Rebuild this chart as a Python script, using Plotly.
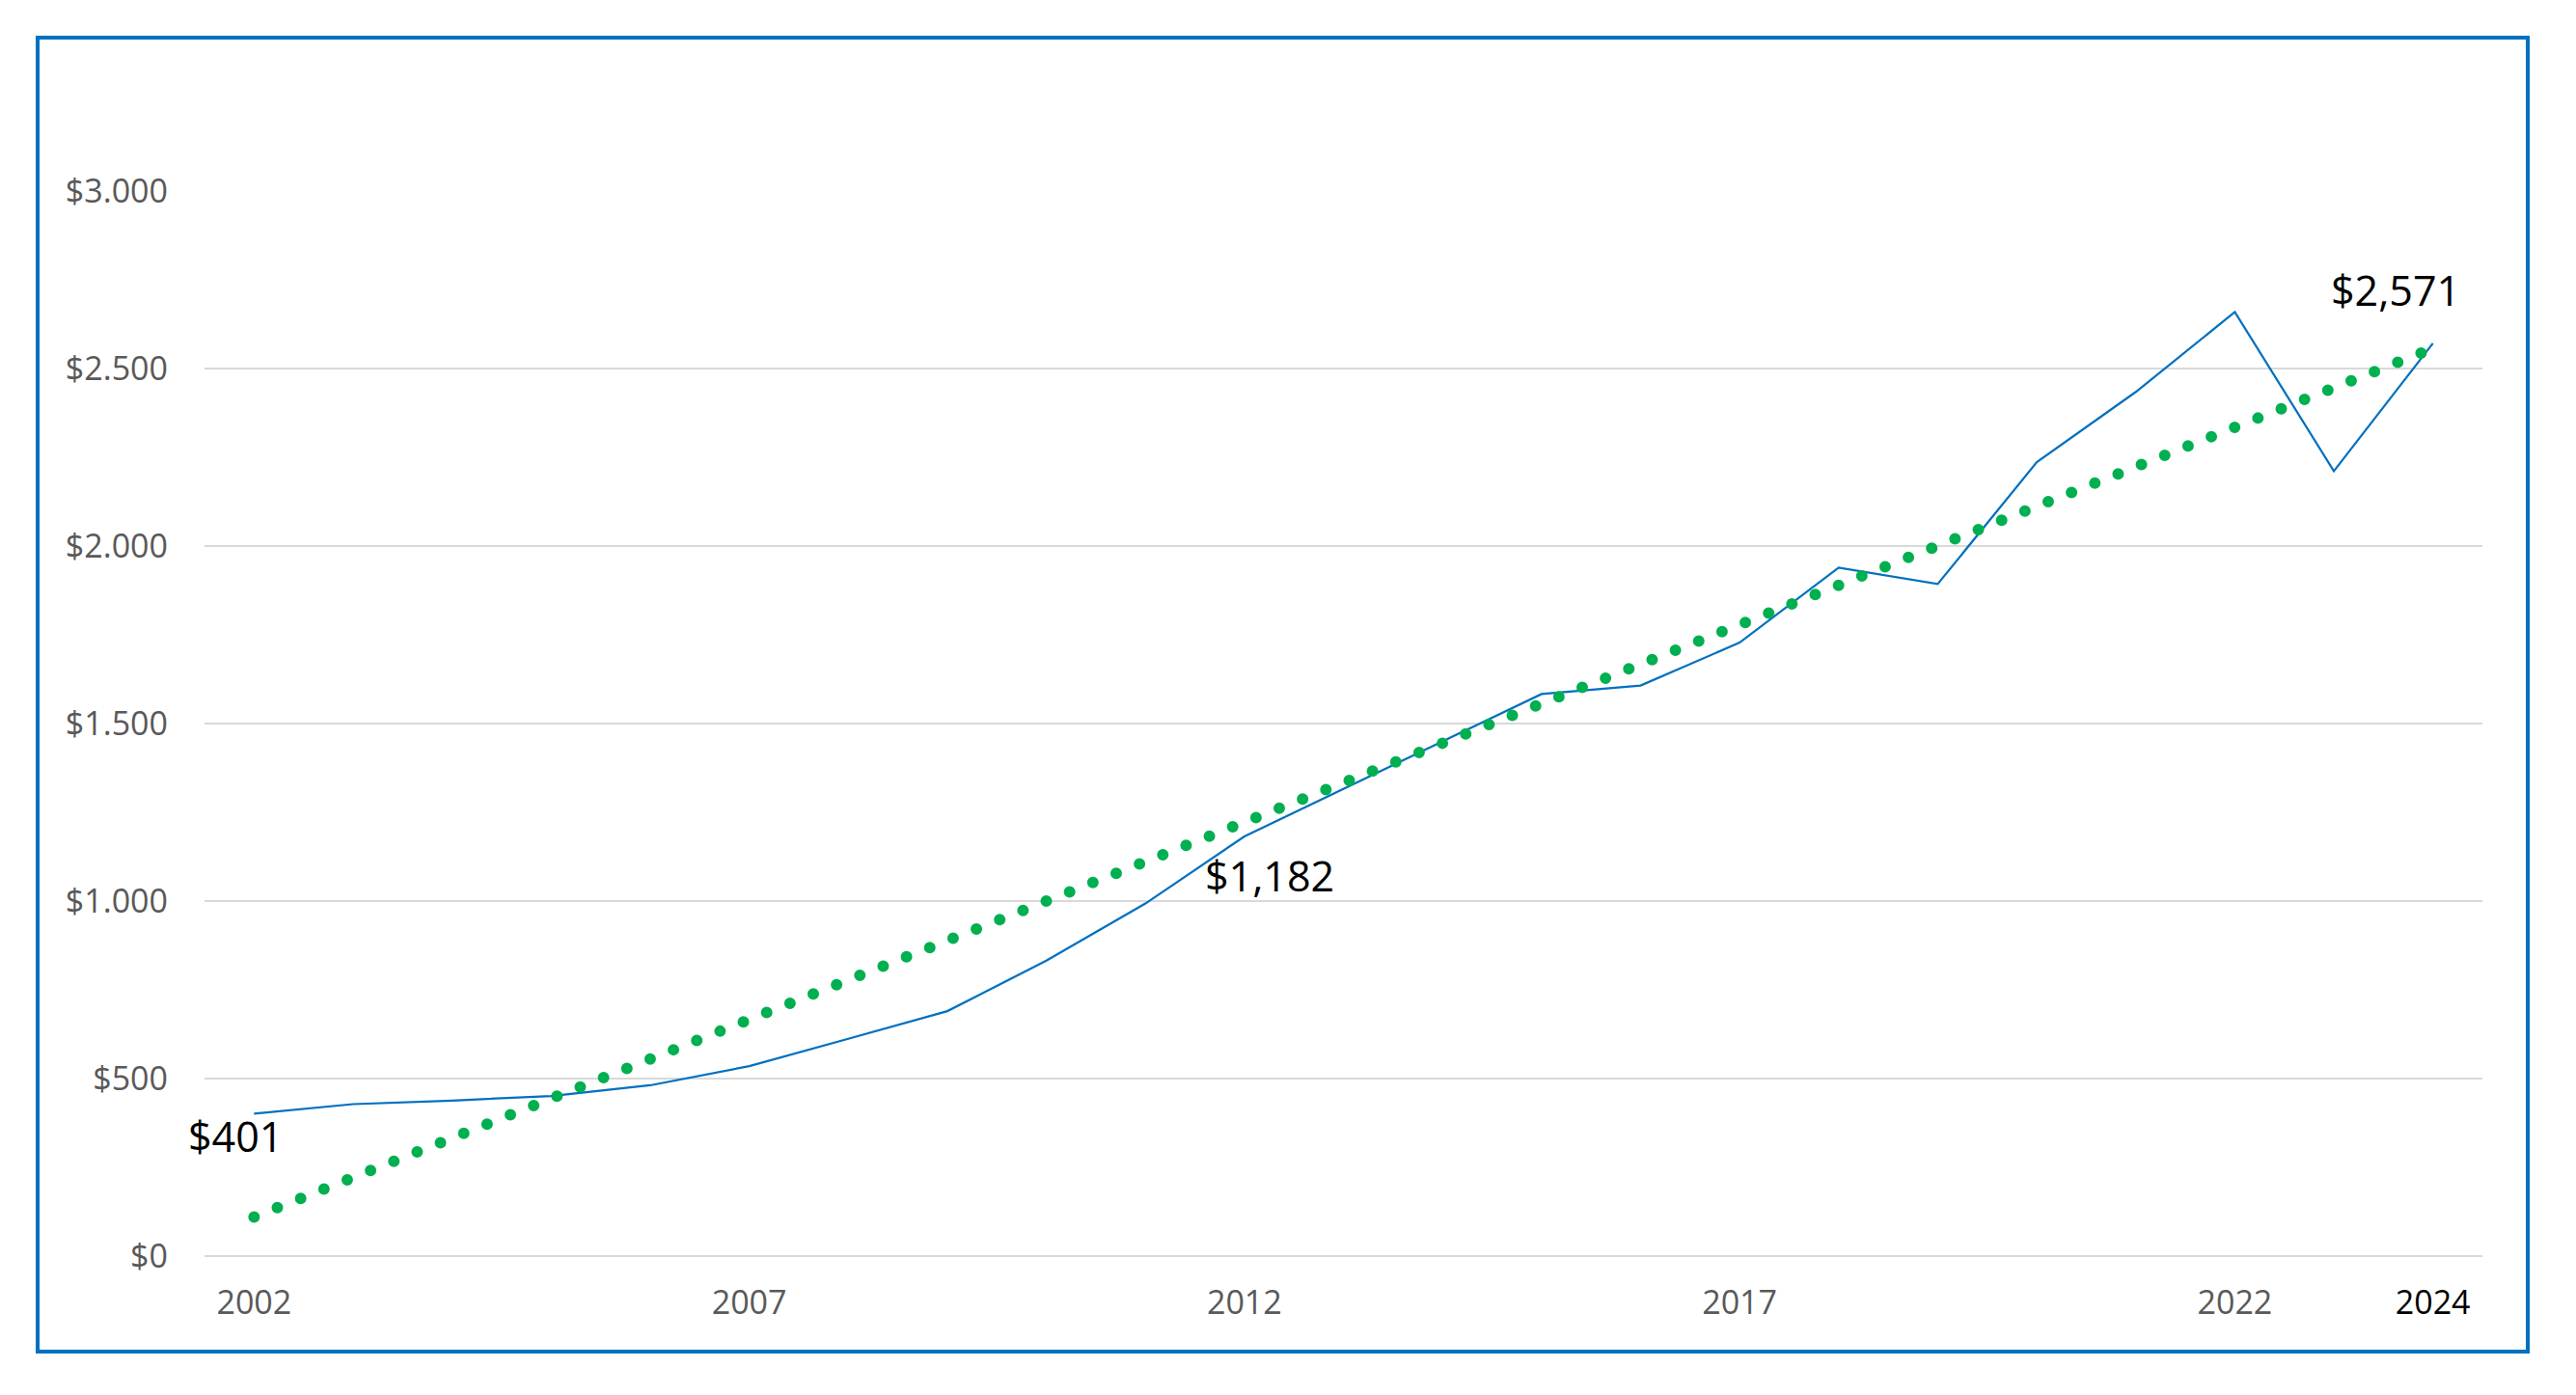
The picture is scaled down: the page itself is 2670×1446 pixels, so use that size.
import numpy as np
import plotly.graph_objects as go

# ---- data ----
years = [2002, 2003, 2004, 2005, 2006, 2007, 2008, 2009, 2010, 2011, 2012, 2013,
         2014, 2015, 2016, 2017, 2018, 2019, 2020, 2021, 2022, 2023, 2024]
values = [401, 428, 438, 451, 481, 535, 612, 690, 832, 993, 1182, 1317,
          1450, 1583, 1607, 1728, 1939, 1893, 2236, 2434, 2659, 2211, 2571]

y_tick_vals = [0, 500, 1000, 1500, 2000, 2500, 3000]
y_tick_text = ["$0", "$500", "$1.000", "$1.500", "$2.000", "$2.500", "$3.000"]
x_tick_vals = [2002, 2007, 2012, 2017, 2022, 2024]
x_tick_text = ["2002", "2007", "2012", "2017", "2022",
               "<span style='color:#000000'>2024</span>"]

label_years = [2002, 2012, 2024]
label_text = ["$401", "$1,182", "$2,571"]

# linear trendline of the series (as in the original chart)
slope, intercept = np.polyfit(years, values, 1)
trend_x = [years[0], years[-1]]
trend_y = [slope * x + intercept for x in trend_x]

# ---- layout geometry (pixels) ----
W, H = 2670, 1446
PL, PR, PT, PB = 212, 2573, 198, 1302   # plot area
BL, BR, BT, BB = 39, 2620, 39, 1401     # outer border

def px_to_paper_x(px):
    return (px - PL) / (PR - PL)

def px_to_paper_y(py):
    return (PB - py) / (PB - PT)

fig = go.Figure()
fig.add_trace(go.Scatter(
    x=years, y=values, mode="lines",
    line=dict(color="#0070C0", width=2.25),
    hoverinfo="skip", showlegend=False,
))
fig.add_trace(go.Scatter(
    x=trend_x, y=trend_y, mode="lines",
    line=dict(color="#00B050", width=12, dash="0px,26px"),
    hoverinfo="skip", showlegend=False,
))

label_shift = {2002: (-19, -23), 2012: (26, -40), 2024: (-39, 55)}
for yr, txt in zip(label_years, label_text):
    v = values[years.index(yr)]
    dx, dy = label_shift[yr]
    fig.add_annotation(
        x=yr, y=v, xref="x", yref="y", text=txt, showarrow=False,
        xanchor="center", yanchor="middle", xshift=dx, yshift=dy,
        font=dict(family="Open Sans", size=43, color="#000000"),
    )

fig.add_shape(
    type="rect", xref="paper", yref="paper",
    x0=px_to_paper_x(BL), x1=px_to_paper_x(BR),
    y0=px_to_paper_y(BB), y1=px_to_paper_y(BT),
    line=dict(color="#0070C0", width=4), fillcolor="rgba(0,0,0,0)",
    layer="above",
)

fig.update_layout(
    width=W, height=H,
    margin=dict(l=PL, r=W - PR, t=PT, b=H - PB, pad=0),
    paper_bgcolor="#FFFFFF", plot_bgcolor="#FFFFFF",
    showlegend=False,
    font=dict(family="Open Sans", size=33, color="#595959"),
    xaxis=dict(
        range=[2001.5, 2024.5], tickmode="array",
        tickvals=x_tick_vals, ticktext=x_tick_text,
        showgrid=False, zeroline=False, showline=False, ticks="",
        ticklabelstandoff=25,
        tickfont=dict(family="Open Sans", size=34, color="#595959"),
    ),
    yaxis=dict(
        range=[0, 3000], tickmode="array",
        tickvals=y_tick_vals, ticktext=y_tick_text,
        showgrid=True, gridcolor="#D9D9D9", gridwidth=2,
        zeroline=True, zerolinecolor="#D9D9D9", zerolinewidth=2,
        showline=False, ticks="", ticklabelstandoff=37,
        tickfont=dict(family="Open Sans", size=34, color="#595959"),
    ),
)

post_script = """
var gd = document.getElementById('{plot_id}');
function fixCaps(){
  var traces = gd.querySelectorAll('.scatterlayer .trace');
  if (traces.length > 1) {
    traces[1].querySelectorAll('path.js-line').forEach(function(p){
      p.style.strokeLinecap = 'round';
    });
  }
}
fixCaps();
gd.on('plotly_afterplot', fixCaps);
"""

fig.write_html("out.html", config={"displayModeBar": False, "responsive": False},
               post_script=post_script)
